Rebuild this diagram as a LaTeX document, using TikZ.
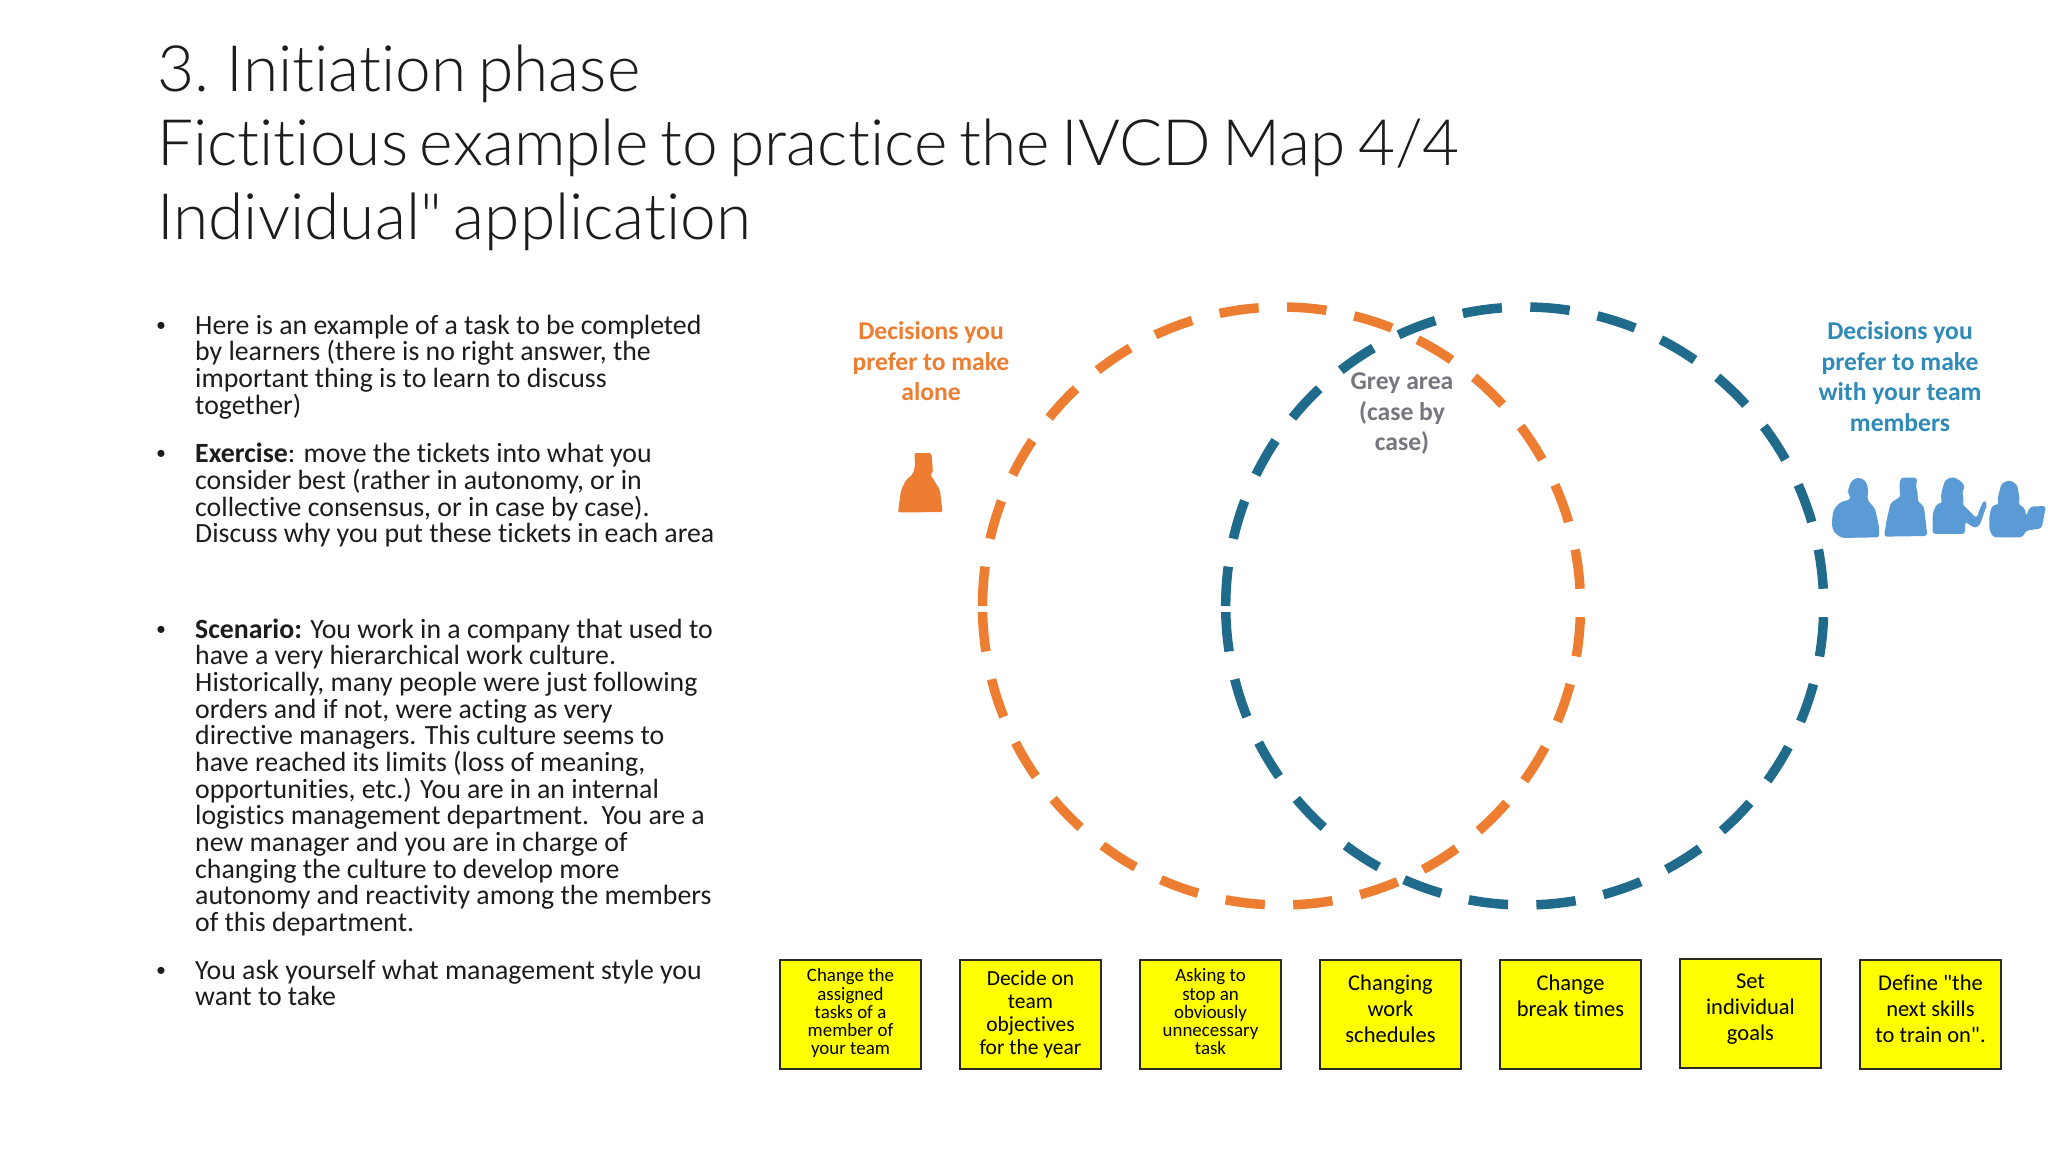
\documentclass[tikz,border=0pt]{standalone}
\usepackage{fontspec}
\setmainfont{Carlito}[Ligatures={TeXOff,CommonOff}]
\newfontfamily\titlefont{Lato Light}[Ligatures={TeXOff,CommonOff},WordSpace=0.68]
\definecolor{orangeC}{HTML}{ED7D31}
\definecolor{blueC}{HTML}{206B8C}
\definecolor{teamText}{HTML}{2E8BB8}
\definecolor{greyText}{HTML}{76767E}
\definecolor{peopleC}{HTML}{5B9BD5}
\definecolor{inkC}{HTML}{1C1C1C}
\definecolor{boxYellow}{HTML}{FFFF00}
\definecolor{boxLine}{HTML}{2A2A20}
\newcommand{\tf}[1]{\rule{0pt}{#1pt}}
\newcommand{\lastln}[1]{\rule[-#1pt]{0pt}{#1pt}}
\lineskiplimit=-1000pt
\tikzset{
  ring/.style={line width=9.5pt,dash pattern=on 39.5pt off 28.4pt},
  titletext/.style={anchor=north west,inner sep=0pt,align=left,text=inkC,font=\titlefont\fontsize{64}{74}\selectfont},
  bodytext/.style={anchor=north west,inner sep=0pt,align=left,text=inkC,font=\fontsize{27.8}{26.65}\selectfont},
  bulletmark/.style={anchor=base,inner sep=0pt,text=inkC,font=\fontsize{20}{20}\selectfont},
  catlabel/.style={anchor=north,inner sep=0pt,align=center,font=\bfseries\fontsize{25.6}{30.8}\selectfont},
  ticket/.style={draw=boxLine,line width=2pt,fill=boxYellow,anchor=north west,outer sep=0pt,minimum width=141pt,minimum height=109pt,inner sep=0pt,align=center,text=black},
  small/.style={font=\fontsize{18.9}{18.3}\selectfont},
  medium/.style={font=\fontsize{21.5}{23}\selectfont},
  large/.style={font=\fontsize{22.5}{26}\selectfont},
  person/.style={rounded corners=3pt,draw=none}
}
\begin{document}
\begin{tikzpicture}[x=1pt,y=-1pt]
\useasboundingbox (0,0) rectangle (2048,1152);
\fill[white] (0,0) rectangle (2048,1152);
% title
\node[titletext] (title) at (157,31) {\tf{60}3. Initiation phase\\Fictitious example to practice the IVCD Map 4/4\\Individual" application};
% bullets
\node[bulletmark] (b1) at (161,331) {•};
\node[bulletmark] (b2) at (161,459.7) {•};
\node[bulletmark] (b3) at (161,635) {•};
\node[bulletmark] (b4) at (161,976) {•};
\node[bodytext] (p1) at (195,304) {\tf{30}Here is an example of a task to be completed\\by learners (there is no right answer, the\\important thing is to learn to discuss\\together)};
\node[bodytext] (p2) at (195,432.7) {\tf{30}\textbf{Exercise}: move the tickets into what you\\consider best (rather in autonomy, or in\\collective consensus, or in case by case).\\Discuss why you put these tickets in each area};
\node[bodytext] (p3) at (195,608) {\tf{30}\textbf{Scenario:} You work in a company that used to\\have a very hierarchical work culture.\\Historically, many people were just following\\orders and if not, were acting as very\\directive managers. This culture seems to\\have reached its limits (loss of meaning,\\opportunities, etc.) You are in an internal\\logistics management department.\ \ You are a\\new manager and you are in charge of\\changing the culture to develop more\\autonomy and reactivity among the members\\of this department.};
\node[bodytext] (p4) at (195,949) {\tf{30}You ask yourself what management style you\\want to take};
% rings
\coordinate (orangeCentre) at (1281.5,606);
\coordinate (blueCentre) at (1524.7,606);
\draw[ring,orangeC] (orangeCentre) ++(-299,0) arc[start angle=180,end angle=540,radius=299];
\draw[ring,blueC] (blueCentre) ++(-299,0) arc[start angle=180,end angle=540,radius=299];
% labels
\node[catlabel,text=orangeC] (alone) at (931,309) {\tf{30}Decisions you\\prefer to make\\alone};
\node[catlabel,text=teamText] (team) at (1900,309) {\tf{30}Decisions you\\prefer to make\\with your team\\members};
\node[catlabel,text=greyText] (grey) at (1402,359) {\tf{30}Grey area\\(case by\\case)};
% lone person
\fill[orangeC,person,rounded corners=2pt] (914.5,453) -- (931.5,453) -- (933,473) -- (930,474) -- (940,490) -- (942.5,512) -- (898,512.5) -- (901,490) -- (906,480) -- (913,474) -- (915,466) -- cycle;
% team people
\begin{scope}[shift={(1780,300)},x=0.3333pt,y=-0.3333pt]
\fill[peopleC,person] (205,570) -- (212,545) -- (232,532) -- (255,540) -- (265,565) -- (262,600) -- (285,625) -- (297,680) -- (298,712) -- (185,714) -- (160,695) -- (155,670) -- (160,630) -- (180,607) -- (212,598) -- (212,590) -- (202,578) -- cycle;
\fill[peopleC,person] (362,533) -- (412,533) -- (408,560) -- (415,590) -- (410,600) -- (432,620) -- (442,708) -- (312,710) -- (320,660) -- (332,608) -- (362,590) -- (358,560) -- cycle;
\fill[peopleC,person] (485,575) -- (495,540) -- (520,530) -- (545,545) -- (555,560) -- (548,570) -- (548,590) -- (553,607) -- (545,610) -- (575,640) -- (590,655) -- (600,625) -- (612,600) -- (622,612) -- (615,630) -- (600,675) -- (585,685) -- (555,665) -- (555,702) -- (458,702) -- (458,640) -- (470,612) -- (490,607) -- (482,600) -- cycle;
\fill[peopleC,person] (655,585) -- (665,550) -- (690,540) -- (712,555) -- (720,605) -- (712,610) -- (735,625) -- (738,650) -- (750,620) -- (798,618) -- (785,685) -- (738,692) -- (728,712) -- (640,712) -- (628,690) -- (628,650) -- (635,618) -- (660,610) -- (652,606) -- cycle;
\end{scope}
% tickets
\node[ticket,small] (t1) at (780,960) {\tf{19.6}Change the\\assigned\\tasks of a\\member of\\your team\lastln{12}};
\node[ticket,medium] (t2) at (960,960) {\tf{22}Decide on\\team\\objectives\\for the year\lastln{12}};
\node[ticket,small] (t3) at (1140,960) {\tf{19.6}Asking to\\stop an\\obviously\\unnecessary\\task\lastln{12}};
\node[ticket,large] (t4) at (1320,960) {\tf{18}Changing\\work\\schedules\lastln{15}};
\node[ticket,large] (t5) at (1500,960) {\tf{22}Change\\break times\lastln{45}};
\node[ticket,large] (t6) at (1680,958.5) {\tf{17}Set\\individual\\goals\lastln{15}};
\node[ticket,large] (t7) at (1860,960) {\tf{18}Define "the\\next skills\\to train on".\lastln{15}};
\end{tikzpicture}
\end{document}
